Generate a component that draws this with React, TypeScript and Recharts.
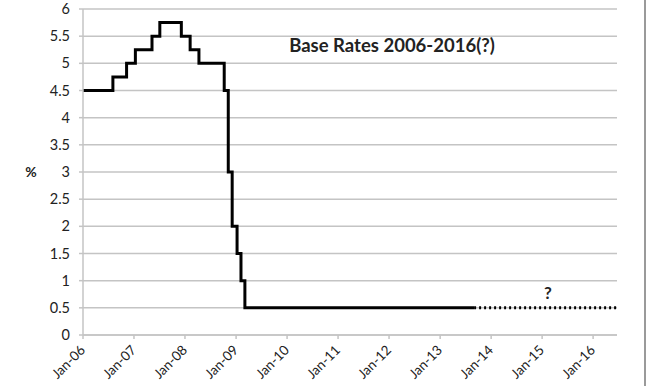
import { CartesianGrid, Line, LineChart, XAxis, YAxis } from 'recharts'

// Bank of England base rate changes (date the new rate took effect)
const rateDates = [
  '2006-01-01', '2006-08-03', '2006-11-09', '2007-01-11', '2007-05-10', '2007-07-05',
  '2007-12-06', '2008-02-07', '2008-04-10', '2008-10-08', '2008-11-06', '2008-12-04',
  '2009-01-08', '2009-02-05', '2009-03-05', '2013-09-01',
]
const rates = [4.5, 4.75, 5, 5.25, 5.5, 5.75, 5.5, 5.25, 5, 4.5, 3, 2, 1.5, 1, 0.5, 0.5]

// the "?" outlook, drawn dotted
const outlookDates = ['2013-09-01', '2016-06-20']
const outlookRates = [0.5, 0.5]

const tickDates = [
  '2006-01-01', '2007-01-01', '2008-01-01', '2009-01-01', '2010-01-01', '2011-01-01',
  '2012-01-01', '2013-01-01', '2014-01-01', '2015-01-01', '2016-01-01',
]
const tickLabels = ['Jan-06', 'Jan-07', 'Jan-08', 'Jan-09', 'Jan-10', 'Jan-11', 'Jan-12', 'Jan-13', 'Jan-14', 'Jan-15', 'Jan-16']
const yTicks = [0, 0.5, 1, 1.5, 2, 2.5, 3, 3.5, 4, 4.5, 5, 5.5, 6]

const toTime = (d: string) => Date.parse(d + 'T00:00:00Z')

const actual = rateDates.map((d, i) => ({ t: toTime(d), rate: rates[i] }))
const outlook = outlookDates.map((d, i) => ({ t: toTime(d), rate: outlookRates[i] }))
const xTicks = tickDates.map(toTime)
const xDomain = [toTime('2006-01-01'), toTime('2016-06-20')]

const FONT = 'Lato, "Open Sans", sans-serif'
const GRID = '#c4c4c4'
const TEXT = '#222'

function XTick(props: any) {
  const { x, y, payload } = props
  const idx = xTicks.indexOf(payload?.value)
  return (
    <g transform={`translate(${x + 3},${y + 10})`}>
      <text textAnchor="end" transform="rotate(-45)" fill={TEXT} fontSize={13.5} fontFamily={FONT}>
        {tickLabels[idx]}
      </text>
    </g>
  )
}

export default function App() {
  return (
    <div style={{ position: 'absolute', left: 0, top: 0, width: 651, height: 386, background: '#fff' }}>
      <LineChart width={651} height={386} margin={{ top: 9, right: 34, bottom: 0, left: 0 }}>
        <CartesianGrid vertical={false} stroke={GRID} strokeWidth={1.5} />
        <XAxis
          type="number"
          dataKey="t"
          scale="time"
          domain={xDomain}
          ticks={xTicks}
          tick={<XTick />}
          height={51}
          interval={0}
          allowDataOverflow
          stroke={GRID}
          strokeWidth={1.5}
          tickSize={4}
        />
        <YAxis
          domain={[0, 6]}
          ticks={yTicks}
          interval={0}
          width={83}
          stroke={GRID}
          strokeWidth={1.5}
          tickSize={4}
          tickMargin={9}
          tick={{ fontSize: 14.5, fill: TEXT, fontFamily: FONT }}
        />
        <Line
          data={actual}
          dataKey="rate"
          type="stepAfter"
          stroke="#000"
          strokeWidth={3}
          dot={false}
          activeDot={false}
          isAnimationActive={false}
        />
        <Line
          data={outlook}
          dataKey="rate"
          type="linear"
          stroke="#000"
          strokeWidth={3}
          strokeDasharray="2 3"
          dot={false}
          activeDot={false}
          isAnimationActive={false}
        />
        <text x={392} y={52} textAnchor="middle" fontSize={18.5} fontWeight={700} fill={TEXT} fontFamily={FONT}>
          Base Rates 2006-2016(?)
        </text>
        <text x={548} y={299} textAnchor="middle" fontSize={17} fontWeight={700} fill={TEXT} fontFamily={FONT}>
          ?
        </text>
        <text x={31} y={177} textAnchor="middle" fontSize={14} fontWeight={700} fill={TEXT} fontFamily={FONT}>
          %
        </text>
      </LineChart>
      <div style={{ position: 'absolute', left: 644, top: 0, width: 1.5, height: 386, background: '#9a9a9a' }} />
    </div>
  )
}
